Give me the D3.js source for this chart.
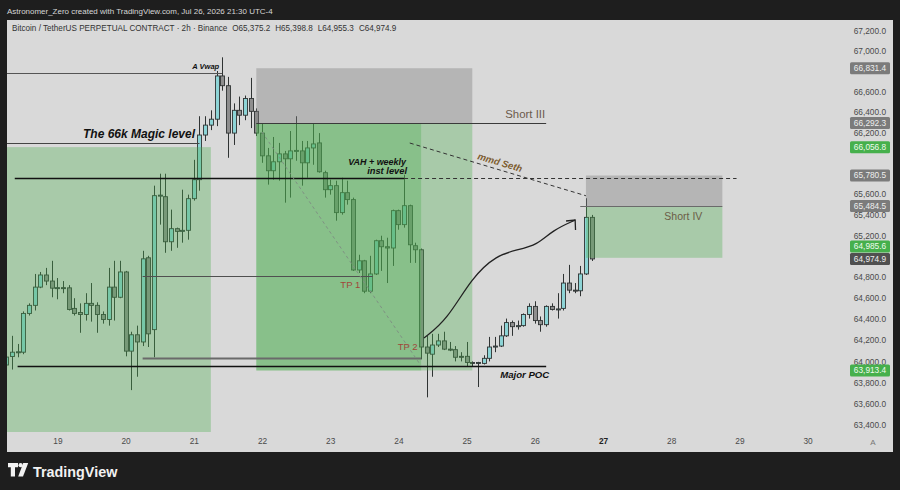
<!DOCTYPE html>
<html><head><meta charset="utf-8">
<script src="https://cdn.jsdelivr.net/npm/d3@7"></script>
<style>html,body{margin:0;padding:0;background:#1e1e1e;} svg{display:block;}</style>
</head><body>
<svg id="chart" width="900" height="490"></svg>
<script>
// ---------------- DATA ----------------
const candleStart = "2026-07-18T06:00:00Z";   // first (partly hidden) 2h candle
const intervalHours = 2;
const opens = [63965,64045,64086,64086,64454,64531,64705,64821,64763,64695,64700,64698,64502,64463,64444,64550,64531,64444,64396,64705,64608,64850,64096,64251,64183,64986,64300,65585,65575,65140,65266,65240,65250,65556,65740,66175,66272,66330,66755,66659,66194,66417,66369,66533,66407,66194,65972,65827,65914,65991,65943,66020,66020,65904,66049,66098,65808,65643,65682,65421,65614,65547,64869,64957,64666,64831,65150,65092,65080,65440,65305,65488,65102,65063,64135,64067,64154,64193,64115,64110,64047,64047,63989,63980,63980,64028,64135,64144,64241,64367,64328,64338,64444,64521,64386,64347,64521,64492,64502,64744,64676,64670,64831,65375.2];
const highs = [64060,64241,64164,64473,64550,64831,64850,64889,64957,64792,64763,64724,64599,64550,64647,64744,64560,64473,64889,64957,64957,64860,64280,64338,65053,65005,65682,65798,65798,65450,65276,65643,65595,65933,66359,66359,66417,66804,66939,66746,66485,66552,66562,66736,66436,66291,66049,66156,66098,66020,66214,66359,66117,66117,66291,66194,65827,65740,65730,65759,65730,65566,65015,64966,65005,65160,65198,65179,65450,65450,65788,65498,65131,65075,64241,64260,64260,64280,64183,64144,64086,64183,63999,63995,64057,64231,64231,64338,64405,64386,64386,64454,64550,64570,64425,64531,64550,64647,64831,64918,64744,64908,65560,65398.8];
const lows = [63950,63922,64038,64067,64434,64482,64695,64724,64608,64589,64647,64482,64434,64270,64386,64376,64270,64357,64338,64386,64599,64047,63728,63854,64144,64135,64038,65305,65034,65053,65082,65131,65160,65537,65633,66117,66223,66262,66610,65953,66078,66272,66320,66243,66165,65904,65692,65740,65730,65517,65566,65924,65682,65759,65885,65808,65566,65595,65343,65401,65498,64860,64840,64647,64647,64821,64860,64744,64908,65256,65276,64937,64937,64018,63660,63854,64135,64106,64096,63999,63999,63951,63951,63757,63970,63999,64086,64135,64231,64241,64300,64328,64405,64357,64280,64328,64482,64405,64482,64647,64647,64618,64821,64955.3];
const closes = [64040,64086,64090,64454,64531,64705,64821,64763,64695,64700,64698,64492,64454,64444,64550,64531,64444,64396,64705,64608,64850,64096,64251,64183,64976,64260,65585,65590,65140,65266,65240,65250,65556,65740,66175,66272,66330,66755,66659,66194,66417,66369,66533,66407,66194,65972,65827,65914,65991,65943,66020,66025,65904,66049,66088,65817,65643,65682,65421,65614,65547,64869,64957,64666,64831,65150,65092,65080,65440,65305,65488,65111,65063,64135,64077,64154,64193,64115,64110,64038,64038,63989,63980,63989,64028,64135,64144,64241,64367,64328,64338,64444,64521,64386,64347,64521,64492,64497,64744,64676,64670,64831,65375.2,64974.9];

const dayTicks = ["2026-07-19","2026-07-20","2026-07-21","2026-07-22","2026-07-23","2026-07-24","2026-07-25","2026-07-26","2026-07-27","2026-07-28","2026-07-29","2026-07-30"];
const priceTicks = [63400,63600,63800,64000,64200,64400,64600,64800,65000,65200,65400,65600,65800,66000,66200,66400,66600,66800,67000,67200];
const priceTags = [66831.4,66292.3,66056.8,65780.5,65484.5,64985.6,64974.9,63913.4];
const priceTagKinds = ["grey","grey","green","grey","grey","green","last","green"];

// drawings (time, price)
const leftLong   = {t0:"2026-07-18T02:00Z", t1:"2026-07-21T06:00Z", top:66056.8, bottom:63200};
const vwapLine   = {t0:"2026-07-18T02:00Z", t1:"2026-07-21T10:00Z", price:66785};
const magicLine  = {t0:"2026-07-18T02:00Z", t1:"2026-07-21T02:00Z", price:66100};
const vahLine    = {t0:"2026-07-18T09:00Z", t1:"2026-07-24T02:00Z", t2:"2026-07-28T23:00Z", price:65760};
const shortIII   = {t0:"2026-07-21T22:00Z", tMid:"2026-07-24T08:00Z", t1:"2026-07-25T02:00Z", tLine:"2026-07-26T04:00Z", stop:66831.4, entry:66292.3, target:63913.4};
const tp1Line    = {t0:"2026-07-20T06:00Z", t1:"2026-07-23T15:00Z", price:64811};
const tp2Line    = {t0:"2026-07-20T06:00Z", t1:"2026-07-24T08:00Z", price:64028};
const pocLine    = {t0:"2026-07-18T10:00Z", t1:"2026-07-26T04:00Z", price:63960};
const pathDash   = {t0:"2026-07-22T00:00Z", p0:66205, t1:"2026-07-24T08:00Z", p1:63956};
const sethLine   = {t0:"2026-07-24T04:00Z", p0:66097, t1:"2026-07-26T18:00Z", p1:65584};
const shortIV    = {t0:"2026-07-26T18:00Z", t1:"2026-07-28T18:00Z", tLine:"2026-07-26T16:00Z", stop:65780.5, entry:65484.5, target:64985.6};
const arrowTimes  = ["2026-07-24T09:00Z","2026-07-24T17:06Z","2026-07-25T01:54Z","2026-07-25T10:42Z","2026-07-25T17:48Z","2026-07-26T00:48Z","2026-07-26T06:24Z","2026-07-26T14:12Z"];
const arrowPrices = [64220,64391,64800,65013,65061,65109,65253,65349];
const arrowHead   = {tl:"2026-07-26T11:00Z", pl:65340, td:"2026-07-26T14:20Z", pd:65253};

// ---------------- CHART ----------------
const svg = d3.select("#chart");
const P = {l:7, r:848, t:20, b:432};
const T = s => new Date(s);
const x = d3.scaleUtc().domain([T("2026-07-18T06:16Z"), T("2026-07-30T14:13Z")]).range([P.l, P.r]);
const y = d3.scaleLog().domain([63335, 67309]).range([P.b, P.t]);

// backgrounds
svg.append("rect").attr("width",900).attr("height",490).attr("fill","#1e1e1e");
svg.append("rect").attr("x",7).attr("y",20).attr("width",886).attr("height",432).attr("fill","#d9d9d9");

svg.append("clipPath").attr("id","pc").append("rect")
  .attr("x",P.l).attr("y",P.t).attr("width",P.r-P.l).attr("height",P.b-P.t);
const plot = svg.append("g").attr("clip-path","url(#pc)");

// candles
const candles = opens.map((o,i)=>({t:new Date(Date.parse(candleStart)+i*intervalHours*3600e3), o, h:highs[i], l:lows[i], c:closes[i]}));
const cg = plot.append("g");
cg.selectAll("line.w").data(candles).join("line")
  .attr("x1",d=>Math.round(x(d.t))+0.5).attr("x2",d=>Math.round(x(d.t))+0.5)
  .attr("y1",d=>y(d.h)).attr("y2",d=>y(d.l)).attr("stroke","#2f3333").attr("stroke-width",1);
cg.selectAll("rect.b").data(candles).join("rect")
  .attr("x",d=>Math.round(x(d.t))+0.5-2).attr("width",4)
  .attr("y",d=>y(Math.max(d.o,d.c)))
  .attr("height",d=>Math.max(1,y(Math.min(d.o,d.c))-y(Math.max(d.o,d.c))))
  .attr("fill",d=>d.c>=d.o?"#8dd4d6":"#8e8e8e")
  .attr("stroke","#2f3333").attr("stroke-width",0.9);

// boxes
const GREEN="rgba(76,175,80,0.35)", GREY="rgba(128,128,128,0.4)";
function box(t0,t1,p0,p1,fill){
  plot.append("rect").attr("x",x(T(t0))).attr("width",x(T(t1))-x(T(t0)))
    .attr("y",y(Math.max(p0,p1))).attr("height",y(Math.min(p0,p1))-y(Math.max(p0,p1))).attr("fill",fill);
}
box(leftLong.t0,leftLong.t1,leftLong.top,leftLong.bottom,GREEN);
box(shortIII.t0,shortIII.t1,shortIII.stop,shortIII.entry,GREY);
box(shortIII.t0,shortIII.t1,shortIII.entry,shortIII.target,GREEN);
box(shortIII.t0,shortIII.tMid,shortIII.entry,shortIII.target,GREEN);
box(shortIV.t0,shortIV.t1,shortIV.stop,shortIV.entry,GREY);
box(shortIV.t0,shortIV.t1,shortIV.entry,shortIV.target,GREEN);

function hline(t0,t1,p,color,w,dash){
  const l = plot.append("line").attr("x1",x(T(t0))).attr("x2",x(T(t1)))
    .attr("y1",Math.round(y(p))+0.5).attr("y2",Math.round(y(p))+0.5)
    .attr("stroke",color).attr("stroke-width",w);
  if(dash) l.attr("stroke-dasharray",dash);
  return l;
}
function seg(t0,p0,t1,p1,color,w,dash){
  const l = plot.append("line").attr("x1",x(T(t0))).attr("y1",y(p0)).attr("x2",x(T(t1))).attr("y2",y(p1))
    .attr("stroke",color).attr("stroke-width",w);
  if(dash) l.attr("stroke-dasharray",dash);
  return l;
}
hline(vwapLine.t0,vwapLine.t1,vwapLine.price,"#555",1);
hline(magicLine.t0,magicLine.t1,magicLine.price,"#444",1);
hline(vahLine.t0,vahLine.t1,vahLine.price,"#111",1.5);
hline(vahLine.t1,vahLine.t2,vahLine.price,"#333",1,"4,3");
hline(shortIII.t0,shortIII.tLine,shortIII.entry,"#3a3a3a",1);
hline(tp1Line.t0,tp1Line.t1,tp1Line.price,"#505050",1);
hline(tp2Line.t0,tp2Line.t1,tp2Line.price,"#6a6a6a",2);
hline(pocLine.t0,pocLine.t1,pocLine.price,"#111",1.5);
hline(shortIV.tLine,shortIV.t1,shortIV.entry,"#6a6a6a",1);
seg(pathDash.t0,pathDash.p0,pathDash.t1,pathDash.p1,"#7f9183",1,"3,3");
seg(sethLine.t0,sethLine.p0,sethLine.t1,sethLine.p1,"#333",1,"4,3");

// curved arrow
const apts = arrowTimes.map((t,i)=>[x(T(t)),y(arrowPrices[i])]);
plot.append("path").attr("d",d3.line().curve(d3.curveBasis)(apts)).attr("fill","none").attr("stroke","#222").attr("stroke-width",1.3);
const tip = apts[apts.length-1];
plot.append("path").attr("d",d3.line()([[x(T(arrowHead.tl)),y(arrowHead.pl)],tip,[x(T(arrowHead.td)),y(arrowHead.pd)]]))
  .attr("fill","none").attr("stroke","#222").attr("stroke-width",1.3);

// texts
const FF = "'Liberation Sans', Arial, sans-serif";
function fit(sel, w){ const n=sel.node(); const len=n.getComputedTextLength(); const fs=parseFloat(sel.attr("font-size")); sel.attr("font-size",(fs*w/len).toFixed(2)); return sel; }
function label(txt,px,py,opts){
  const s = svg.append("text").attr("x",px).attr("y",py).text(txt)
    .attr("font-family",FF).attr("font-size",opts.size||10).attr("fill",opts.color||"#111")
    .attr("text-anchor",opts.anchor||"start");
  if(opts.italic) s.attr("font-style","italic");
  if(opts.bold) s.attr("font-weight","bold");
  if(opts.w) fit(s,opts.w);
  return s;
}
label("A Vwap", x(T(vwapLine.t1))-3, y(vwapLine.price)-3.5, {anchor:"end",italic:1,bold:1,size:8,w:27});
label("The 66k Magic level", x(T(magicLine.t1))-4.5, y(magicLine.price)-5, {anchor:"end",italic:1,bold:1,size:12,w:112});
label("VAH + weekly", x(T(vahLine.t1))+2, y(vahLine.price)-13, {anchor:"end",italic:1,bold:1,size:9,w:58});
label("inst level", x(T(vahLine.t1))+3, y(vahLine.price)-3.5, {anchor:"end",italic:1,bold:1,size:9,w:40});
label("Short III", x(T(shortIII.tLine))-1, y(shortIII.entry)-5, {anchor:"end",size:10,color:"#6b5a4c",w:40});
label("Short IV", x(T(shortIV.t1))-20, y(shortIV.entry)+14, {anchor:"end",size:10.5,color:"#6b5d47",w:38});
label("TP 1", x(T(tp1Line.t1))-12.5, y(tp1Line.price)+12, {anchor:"end",size:10,color:"#a0473a",w:20});
label("TP 2", x(T(tp2Line.t1))-3.5, y(tp2Line.price)-8, {anchor:"end",size:10,color:"#a0473a",w:20});
label("Major POC", x(T(pocLine.t1))+3, y(pocLine.price)+12, {anchor:"end",italic:1,bold:1,size:9,w:49});
{
  const x0=x(T(sethLine.t0)), y0=y(sethLine.p0), x1=x(T(sethLine.t1)), y1=y(sethLine.p1);
  const ang = Math.atan2(y1-y0,x1-x0)*180/Math.PI;
  const f=0.5, cx=x0+(x1-x0)*f, cy=y0+(y1-y0)*f;
  const s = svg.append("text").text("mmd Seth").attr("font-family",FF).attr("font-size",9)
    .attr("font-style","italic").attr("font-weight","bold").attr("fill","#7d5c2f").attr("text-anchor","middle")
    .attr("transform",`translate(${cx},${cy}) rotate(${ang}) translate(0,-4)`);
  fit(s,46);
}

// price tags (computed first so covered tick labels can be hidden)
const tags = priceTags.map((p,i)=>({p, kind:priceTagKinds[i], yy:y(p)}));
const order = tags.slice().sort((a,b)=>b.yy-a.yy);
for(let i=1;i<order.length;i++){ if(order[i-1].yy-order[i].yy<12.5) order[i].yy=order[i-1].yy-12.5; }

// axes
const visibleTicks = priceTicks.filter(p=>tags.every(t=>Math.abs(y(p)-t.yy)>=8));
const yAxis = d3.axisRight(y).tickValues(visibleTicks).tickFormat(d3.format(",.1f")).tickSize(0).tickPadding(0);
svg.append("g").attr("transform","translate(886,0)").call(yAxis)
  .call(g=>{g.select(".domain").remove();
    g.selectAll("text").attr("text-anchor","end").attr("x",0).attr("dy","0.33em")
     .attr("font-family",FF).attr("font-size",8.3).attr("fill","#4a4a4a");});
const xAxis = d3.axisBottom(x).tickValues(dayTicks.map(d=>T(d+"T00:00Z"))).tickFormat(d3.utcFormat("%-d")).tickSize(0).tickPadding(6);
svg.append("g").attr("transform",`translate(0,${P.b})`).call(xAxis)
  .call(g=>{g.select(".domain").remove();
    g.selectAll("text").attr("font-family",FF).attr("font-size",8.3)
     .attr("font-weight",d=>d3.utcFormat("%-d")(d)==="27"?"bold":"normal")
     .attr("fill",d=>d3.utcFormat("%-d")(d)==="27"?"#222":"#4a4a4a");});
label("A", 873, 445, {anchor:"middle",size:8,color:"#777"});

const tagColor = {grey:"#7b7b7b", green:"#46b04c", last:"#505050"};
const tg = svg.append("g");
tags.forEach(t=>{
  tg.append("rect").attr("x",850).attr("y",t.yy-6).attr("width",40).attr("height",12).attr("rx",1.5).attr("fill",tagColor[t.kind]);
  tg.append("text").attr("x",870).attr("y",t.yy).attr("dy","0.34em").attr("text-anchor","middle")
    .attr("font-family",FF).attr("font-size",8.3).attr("fill",t.kind==="green"?"#eefbee":"#eeeeee").text(d3.format(",.1f")(t.p));
});

// header & legend
label("Astronomer_Zero created with TradingView.com, Jul 26, 2026 21:30 UTC-4", 7, 14, {size:10,color:"#d6d6d6",w:266});
{
  const s = svg.append("text").attr("x",12).attr("y",31).attr("font-family",FF).attr("font-size",9).attr("fill","#333");
  s.append("tspan").text("Bitcoin / TetherUS PERPETUAL CONTRACT · 2h · Binance");
  [["O","65,375.2"],["H","65,398.8"],["L","64,955.3"],["C","64,974.9"]].forEach(([k,v])=>{
    s.append("tspan").attr("dx",5).text(k); s.append("tspan").text(v);
  });
  fit(s,365);
}

// footer logo
const lg = svg.append("g").attr("fill","#f2f2f2");
lg.append("path").attr("d","M8,463 h10 v4.2 h-3 v9.3 h-4.2 v-9.3 h-2.8 z");
lg.append("circle").attr("cx",20.6).attr("cy",465.2).attr("r",2.1);
lg.append("path").attr("d","M23.2,463 h5 l-5.2,13.5 h-4.8 z");
label("TradingView", 33, 477, {size:15,color:"#f2f2f2",w:79}).attr("font-weight",600);
</script>
</body></html>
